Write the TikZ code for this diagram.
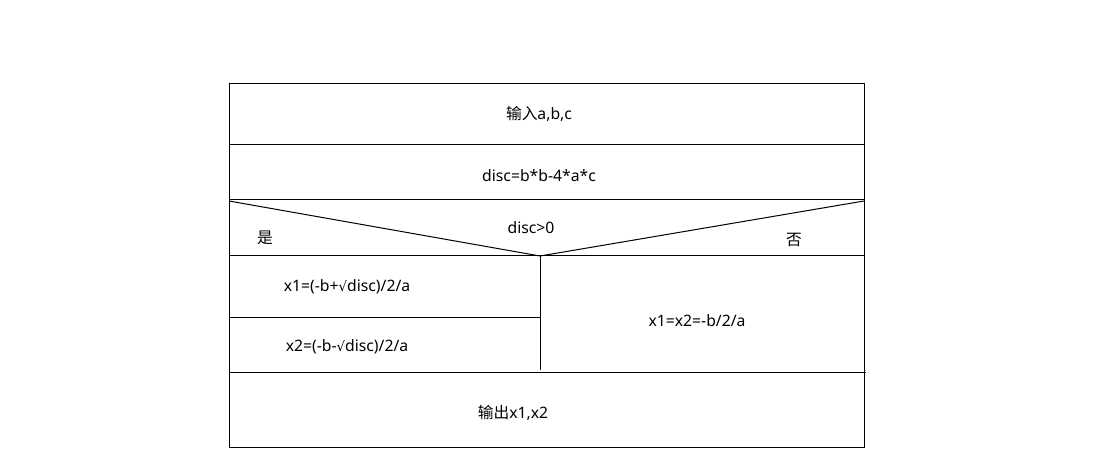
\documentclass[tikz,border=0pt]{standalone}
\usepackage{fontspec}
\setmainfont{Noto Sans}
\newfontfamily\cjk{Noto Sans CJK SC}
\newfontfamily\symfont{DejaVu Sans}
\newcommand{\sqrtsym}{{\symfont\fontsize{10pt}{12pt}\selectfont √}}
\tikzset{lbl/.style={inner sep=0pt, font=\fontsize{11.8pt}{14pt}\selectfont}, ln/.style={line width=0.75pt, black}}
\begin{document}
\begin{tikzpicture}[x=0.75pt,y=-0.75pt]
\useasboundingbox (0,0) rectangle (1100,474);
\fill[white] (0,0) rectangle (1100,474);
% outer box and rows
\coordinate (tl) at (229,84);
\coordinate (br) at (864,447);
\draw[ln] (tl) rectangle (br);
\draw[ln] (229,145) -- (864,145);
\draw[ln] (229,200) -- (864,200);
\draw[ln] (229,256) -- (864,256);
\draw[ln] (229,372) -- (866,372);
\coordinate (apex) at (540,256);
\draw[ln] (229,201) -- (apex) -- (864,201);
\draw[ln] (apex) -- (540,370);
\draw[ln] (229,317) -- (540,317);
% texts
\node[lbl] (in) at (539,114) {{\cjk 输入}a,b,c};
\node[lbl] (disc) at (539,176) {disc=b*b-4*a*c};
\node[lbl] (cond) at (531,228) {disc>0};
\node[lbl] (yes) at (265,238) {\cjk 是};
\node[lbl] (no) at (794,240) {\cjk 否};
\node[lbl] (x1) at (347,287) {x1=(-b+\sqrtsym disc)/2/a};
\node[lbl] (x2) at (347,347) {x2=(-b-\sqrtsym disc)/2/a};
\node[lbl] (x12) at (697,321) {x1=x2=-b/2/a};
\node[lbl] (out) at (513,413) {{\cjk 输出}x1,x2};
\end{tikzpicture}
\end{document}
